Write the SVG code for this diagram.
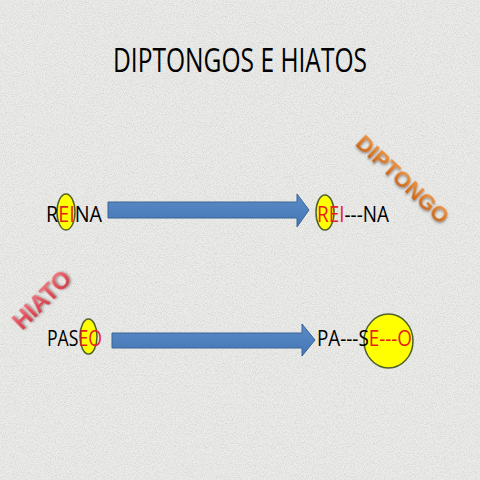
<svg xmlns="http://www.w3.org/2000/svg" width="480" height="480" viewBox="0 0 480 480">
  <style>
    .word { font-family: "Open Sans", "Liberation Sans", sans-serif; font-size: 21px; fill: #000000; }
    .red { fill: #e51e1e; }
    .blob { fill: #ffff00; stroke: #4f6228; stroke-width: 1.5; }
    .arrow { fill: url(#arrowFill); stroke: #3a6496; stroke-width: 1; }
    .tag { font-family: "Liberation Sans", "Open Sans", sans-serif; font-weight: bold; filter: url(#shadow); }
  </style>
  <defs>
    <filter id="noise" x="0" y="0" width="100%" height="100%">
      <feTurbulence type="fractalNoise" baseFrequency="0.9" numOctaves="3" seed="7" result="t"/>
      <feColorMatrix in="t" type="matrix" values="0 0 0 0 0.62  0 0 0 0 0.62  0 0 0 0 0.6  1.6 0 0 0 -0.6"/>
    </filter>
    <filter id="shadow" x="-20%" y="-20%" width="140%" height="140%">
      <feDropShadow dx="1.2" dy="1.2" stdDeviation="0.8" flood-color="#555555" flood-opacity="0.6"/>
    </filter>
    <linearGradient id="arrowFill" x1="0" y1="0" x2="0" y2="1">
      <stop offset="0" stop-color="#5a8cc8"/>
      <stop offset="1" stop-color="#4576b4"/>
    </linearGradient>
    <linearGradient id="orange" x1="0" y1="0" x2="0" y2="1">
      <stop offset="0" stop-color="#f3a45a"/>
      <stop offset="0.5" stop-color="#dd7a24"/>
      <stop offset="1" stop-color="#b85a10"/>
    </linearGradient>
    <linearGradient id="pink" x1="0" y1="0" x2="0" y2="1">
      <stop offset="0" stop-color="#f28c92"/>
      <stop offset="0.5" stop-color="#e4505a"/>
      <stop offset="1" stop-color="#c83440"/>
    </linearGradient>
  </defs>

  <g id="background">
    <rect x="0" y="0" width="480" height="480" fill="#ececea"/>
    <rect x="0" y="0" width="480" height="480" filter="url(#noise)"/>
  </g>

  <g id="title">
    <text x="113" y="72" font-family="Open Sans, Liberation Sans, sans-serif" font-size="32" fill="#000000" textLength="254" lengthAdjust="spacingAndGlyphs">DIPTONGOS E HIATOS</text>
  </g>

  <g id="connectors">
    <path class="arrow" d="M108,202 L297,202 L297,194 L309,210 L297,227 L297,218 L108,218 Z"/>
    <path class="arrow" d="M112,333 L302,333 L302,324 L315,340 L302,356 L302,348 L112,348 Z"/>
  </g>

  <g id="node-reina">
    <ellipse class="blob" cx="66" cy="212" rx="9" ry="18"/>
    <text class="word" x="46" y="222" textLength="56" lengthAdjust="spacingAndGlyphs">R<tspan class="red">EI</tspan>NA</text>
  </g>

  <g id="node-rei-na">
    <ellipse class="blob" cx="325" cy="212.5" rx="9" ry="17.5"/>
    <text class="word" x="317" y="222" textLength="72" lengthAdjust="spacingAndGlyphs"><tspan class="red">REI</tspan>---NA</text>
  </g>

  <g id="node-paseo">
    <ellipse class="blob" cx="88.5" cy="336.5" rx="8.5" ry="17.5"/>
    <text class="word" x="47" y="346" textLength="55" lengthAdjust="spacingAndGlyphs">PAS<tspan class="red">EO</tspan></text>
  </g>

  <g id="node-pa-se-o">
    <ellipse class="blob" cx="388.5" cy="341" rx="24.5" ry="27"/>
    <text class="word" x="317" y="346" textLength="95" lengthAdjust="spacingAndGlyphs">PA---S<tspan class="red">E---O</tspan></text>
  </g>

  <g id="label-diptongo">
    <text class="tag" fill="url(#orange)" font-size="22" text-anchor="middle" transform="translate(403,179) rotate(43)" x="0" y="8" textLength="118" lengthAdjust="spacingAndGlyphs">DIPTONGO</text>
  </g>

  <g id="label-hiato">
    <text class="tag" fill="url(#pink)" font-size="24" text-anchor="middle" transform="translate(42,300) rotate(-45)" x="0" y="8" textLength="72" lengthAdjust="spacingAndGlyphs">HIATO</text>
  </g>
</svg>
